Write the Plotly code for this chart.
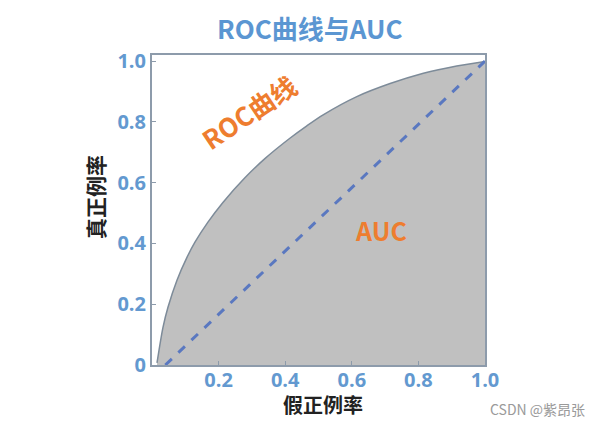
import plotly.graph_objects as go

# ==============================
# Data
# ==============================
fpr = [0.015, 0.033, 0.048, 0.075, 0.105, 0.129, 0.168, 0.213, 0.279,
       0.339, 0.414, 0.465, 0.514, 0.615, 0.715, 0.815, 0.915, 1.0]
tpr = [0.007, 0.124, 0.190, 0.279, 0.354, 0.404, 0.470, 0.535, 0.616,
       0.679, 0.746, 0.787, 0.823, 0.883, 0.926, 0.960, 0.984, 0.999]

diag_x = [0.04, 1.0]
diag_y = [0.0, 1.0]

x_ticks = [0.2, 0.4, 0.6, 0.8, 1.0]
x_tick_labels = ["0.2", "0.4", "0.6", "0.8", "1.0"]
y_ticks = [0, 0.2, 0.4, 0.6, 0.8, 1.0]
y_tick_labels = ["0", "0.2", "0.4", "0.6", "0.8", "1.0"]

BLUE = "#6399d0"
ORANGE = "#ee7d2f"
CJK = "Noto Sans CJK SC"

# ==============================
# Layout sizes (page body adds an 8px margin)
# ==============================
W, H = 595, 419
ML, MR, MT, MB = 144, 118, 47, 62
PW, PH = W - ML - MR, H - MT - MB


def px_to_paper(px, py):
    return (px - ML) / PW, (H - MB - py) / PH


# ==============================
# Figure
# ==============================
fig = go.Figure()

fig.add_trace(go.Scatter(
    x=fpr, y=tpr,
    mode="lines",
    fill="tozeroy",
    fillcolor="#c0c0c0",
    line=dict(color="#7d8b99", width=1.5, shape="spline", smoothing=0.8),
    showlegend=False,
))

fig.add_trace(go.Scatter(
    x=diag_x, y=diag_y,
    mode="lines",
    line=dict(color="#5a78c0", width=3, dash="dash"),
    showlegend=False,
))

fig.update_layout(
    width=W, height=H,
    margin=dict(l=ML, r=MR, t=MT, b=MB, autoexpand=False),
    paper_bgcolor="white",
    plot_bgcolor="white",
    xaxis=dict(
        range=[0, 1], tickvals=x_ticks, ticktext=x_tick_labels,
        showgrid=False, zeroline=False,
        showline=True, mirror=True, linecolor="#8d9bab", linewidth=2,
        ticks="inside", ticklen=4, tickcolor="#8d9bab",
        ticklabelstandoff=-4,
        tickfont=dict(family="Open Sans", size=20, color=BLUE, weight="bold"),
    ),
    yaxis=dict(
        range=[0, 1.02], tickvals=y_ticks, ticktext=y_tick_labels,
        showgrid=False, zeroline=False,
        showline=True, mirror=True, linecolor="#8d9bab", linewidth=2,
        ticks="inside", ticklen=4, tickcolor="#8d9bab",
        tickfont=dict(family="Open Sans", size=20, color=BLUE, weight="bold"),
    ),
)

# chart title
tt_x, tt_y = px_to_paper(302, 19.5)
fig.add_annotation(
    text="<b>ROC曲线与AUC</b>", x=tt_x, y=tt_y, xref="paper", yref="paper",
    xanchor="center", yanchor="middle", showarrow=False,
    font=dict(family=CJK, size=26, color="#5b96d2"),
)

# axis titles
xt_x, xt_y = px_to_paper(315, 397)
fig.add_annotation(
    text="<b>假正例率</b>", x=xt_x, y=xt_y, xref="paper", yref="paper",
    xanchor="center", yanchor="middle", showarrow=False,
    font=dict(family=CJK, size=20, color="#222222"),
)
yt_x, yt_y = px_to_paper(87, 189)
fig.add_annotation(
    text="<b>真正例率</b>", x=yt_x, y=yt_y, xref="paper", yref="paper",
    xanchor="center", yanchor="middle", showarrow=False, textangle=-90,
    font=dict(family=CJK, size=21, color="#222222"),
)

# labels inside the plot
fig.add_annotation(
    text="<b>ROC曲线</b>", x=0.29, y=0.835, xref="x", yref="y",
    showarrow=False, textangle=-34,
    font=dict(family=CJK, size=26, color=ORANGE),
)
fig.add_annotation(
    text="<b>AUC</b>", x=0.688, y=0.444, xref="x", yref="y",
    showarrow=False,
    font=dict(family=CJK, size=25, color=ORANGE),
)

wm_x, wm_y = px_to_paper(529, 401)
fig.add_annotation(
    text="CSDN @紫昂张", x=wm_x, y=wm_y, xref="paper", yref="paper",
    xanchor="center", yanchor="middle", showarrow=False,
    font=dict(family=CJK, size=14, color="#9a9a9a"),
)

fig.write_html("out.html")
